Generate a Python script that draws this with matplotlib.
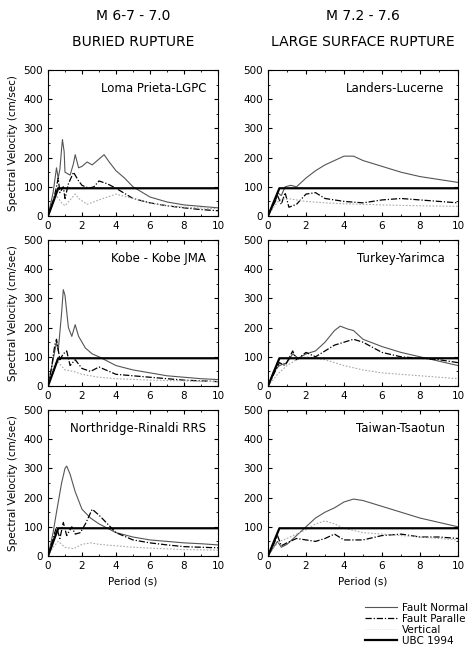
import matplotlib
matplotlib.use("Agg")
import matplotlib.pyplot as plt
from matplotlib.ticker import MultipleLocator
from matplotlib.lines import Line2D

names = ["Loma Prieta-LGPC", "Landers-Lucerne", "Kobe - Kobe JMA", "Turkey-Yarimca",
         "Northridge-Rinaldi RRS", "Taiwan-Tsaotun"]

lp_fn_x = [0,0.3,0.5,0.6,0.7,0.8,0.85,0.95,1.0,1.3,1.5,1.6,1.8,2.0,2.3,2.6,2.8,3.0,3.3,3.6,4.0,4.5,5,6,7,8,9,10]
lp_fn_y = [0,80,165,130,160,230,262,220,150,140,180,210,165,170,185,175,185,195,210,185,155,130,100,65,48,38,33,28]
lp_fp_x = [0,0.3,0.5,0.6,0.7,0.9,1.0,1.2,1.5,1.8,2.0,2.4,2.7,3.0,3.5,4,5,6,7,8,9,10]
lp_fp_y = [0,50,100,130,80,100,60,110,150,120,105,95,100,120,110,95,60,45,35,28,22,18]
lp_v_x = [0,0.3,0.5,0.8,1.0,1.3,1.6,1.8,2.3,3,4,5,6,7,8,10]
lp_v_y = [0,40,70,45,35,55,75,60,40,55,75,60,45,35,30,25]

la_fn_x = [0,0.2,0.4,0.5,0.7,0.9,1.2,1.5,2,2.5,3,3.5,4,4.5,5,6,7,8,9,10]
la_fn_y = [0,30,50,80,70,100,105,100,130,155,175,190,205,205,190,170,150,135,125,115]
la_fp_x = [0,0.3,0.5,0.7,0.9,1.1,1.5,2,2.5,3,4,5,6,7,8,9,10]
la_fp_y = [0,40,70,40,80,30,40,75,80,60,50,45,55,60,55,50,45]
la_v_x = [0,0.3,0.6,1,1.5,2,3,4,5,6,8,10]
la_v_y = [0,30,55,60,55,50,45,42,40,38,35,33]

ko_fn_x = [0,0.3,0.5,0.6,0.8,0.9,1.0,1.2,1.4,1.6,1.8,2.2,2.6,3,4,5,6,7,8,9,10]
ko_fn_y = [0,90,150,120,250,330,310,200,170,210,170,130,110,100,70,55,45,35,30,25,22]
ko_fp_x = [0,0.2,0.4,0.5,0.7,0.9,1.1,1.3,1.6,2,2.5,3,4,5,6,7,8,10]
ko_fp_y = [0,60,140,160,90,110,120,70,90,60,50,65,40,35,30,25,20,15]
ko_v_x = [0,0.3,0.5,0.7,1.0,1.5,2,3,4,6,10]
ko_v_y = [0,60,90,75,55,50,40,30,25,20,15]

tu_fn_x = [0,0.3,0.6,1,1.3,1.6,2,2.5,3,3.5,3.8,4.2,4.5,5,6,7,8,9,10]
tu_fn_y = [0,50,70,80,110,95,110,120,150,190,205,195,190,160,135,115,100,85,70]
tu_fp_x = [0,0.3,0.6,0.9,1.3,1.5,2,2.5,3,3.5,4,4.5,5,6,7,8,9,10]
tu_fp_y = [0,40,80,70,120,90,115,100,120,140,150,160,150,115,100,95,90,80]
tu_v_x = [0,0.5,1,1.5,2,2.5,3,4,5,6,7,8,10]
tu_v_y = [0,40,70,90,100,95,90,70,55,45,40,35,25]

no_fn_x = [0,0.3,0.5,0.8,1,1.1,1.3,1.6,2,2.5,3,4,5,6,7,8,9,10]
no_fn_y = [0,80,150,250,300,308,280,220,160,130,110,80,65,55,50,45,42,38]
no_fp_x = [0,0.3,0.5,0.7,0.9,1.1,1.4,1.6,1.9,2.2,2.6,3,3.5,4,5,6,7,8,10]
no_fp_y = [0,60,100,60,115,70,100,75,80,110,160,140,110,80,55,45,38,32,28]
no_v_x = [0,0.3,0.6,1,1.5,2,2.5,3,4,5,6,8,10]
no_v_y = [0,30,50,30,25,40,45,40,35,30,27,22,20]

ta_fn_x = [0,0.3,0.5,0.7,1,1.5,2,2.5,3,3.5,4,4.5,5,6,7,8,9,10]
ta_fn_y = [0,30,50,30,40,70,100,130,150,165,185,195,190,170,150,130,115,100]
ta_fp_x = [0,0.3,0.5,0.7,1,1.5,2,2.5,3,3.5,4,5,6,7,8,9,10]
ta_fp_y = [0,40,70,35,45,60,55,50,60,75,55,55,70,75,65,65,60]
ta_v_x = [0,0.3,0.6,1,1.5,2,2.5,3,3.5,4,5,6,7,8,9,10]
ta_v_y = [0,30,50,60,75,90,110,120,110,95,80,75,70,65,60,55]

ubc_x = [0, 0.6, 10]
ubc_y = [0, 95, 95]

panels = [
    (lp_fn_x, lp_fn_y, lp_fp_x, lp_fp_y, lp_v_x, lp_v_y),
    (la_fn_x, la_fn_y, la_fp_x, la_fp_y, la_v_x, la_v_y),
    (ko_fn_x, ko_fn_y, ko_fp_x, ko_fp_y, ko_v_x, ko_v_y),
    (tu_fn_x, tu_fn_y, tu_fp_x, tu_fp_y, tu_v_x, tu_v_y),
    (no_fn_x, no_fn_y, no_fp_x, no_fp_y, no_v_x, no_v_y),
    (ta_fn_x, ta_fn_y, ta_fp_x, ta_fp_y, ta_v_x, ta_v_y),
]

W, H = 474, 651
fig = plt.figure(figsize=(W/100, H/100), dpi=100)
lefts = [48, 268]
width = [170, 190]
tops = [70, 240, 410]
h = 146
for i, (p, name) in enumerate(zip(panels, names)):
    r, c = divmod(i, 2)
    ax = fig.add_axes([lefts[c]/W, 1-(tops[r]+h)/H, width[c]/W, h/H])
    fnx, fny, fpx, fpy, vx, vy = p
    ax.plot(fnx, fny, color="#555555", lw=0.8)
    ax.plot(fpx, fpy, color="black", lw=0.9, ls=(0, (5, 1.5, 1, 1.5)))
    ax.plot(vx, vy, color="#aaaaaa", lw=0.8, ls=(0, (1.5, 1.5)))
    ax.plot(ubc_x, ubc_y, color="black", lw=1.6)
    ax.set_xlim(0, 10); ax.set_ylim(0, 500)
    ax.set_xticks([0, 2, 4, 6, 8, 10]); ax.set_yticks([0, 100, 200, 300, 400, 500])
    ax.xaxis.set_minor_locator(MultipleLocator(1))
    ax.yaxis.set_minor_locator(MultipleLocator(50))
    ax.tick_params(which="both", direction="in", top=True, right=True, labelsize=7.5)
    ax.tick_params(which="major", length=3); ax.tick_params(which="minor", length=1.5)
    ax.text(0.93, 0.85, name, transform=ax.transAxes, ha="right", fontsize=8.5)
    if c == 0:
        ax.set_ylabel("Spectral Velocity (cm/sec)", fontsize=7.5)
    if r == 2:
        ax.set_xlabel("Period (s)", fontsize=7.5)

fig.text(133/W, 1-16/H, "M 6-7 - 7.0", ha="center", va="center", fontsize=10)
fig.text(133/W, 1-42/H, "BURIED RUPTURE", ha="center", va="center", fontsize=10)
fig.text(363/W, 1-16/H, "M 7.2 - 7.6", ha="center", va="center", fontsize=10)
fig.text(363/W, 1-42/H, "LARGE SURFACE RUPTURE", ha="center", va="center", fontsize=10)

handles = [Line2D([], [], color="#555555", lw=0.8),
           Line2D([], [], color="black", lw=0.9, ls=(0, (5, 1.5, 1, 1.5))),
           Line2D([], [], color="#dddddd", lw=0.5, ls=(0, (1.5, 1.5))),
           Line2D([], [], color="black", lw=1.6)]
labels = ["Fault Normal", "Fault Paralle", "Vertical", "UBC 1994"]
fig.legend(handles, labels, loc="lower right", bbox_to_anchor=(472/W, 1/H),
           frameon=False, fontsize=7.5, handlelength=3, labelspacing=0.1, handletextpad=0.5, borderaxespad=0)
fig.savefig("out.png", dpi=100)
